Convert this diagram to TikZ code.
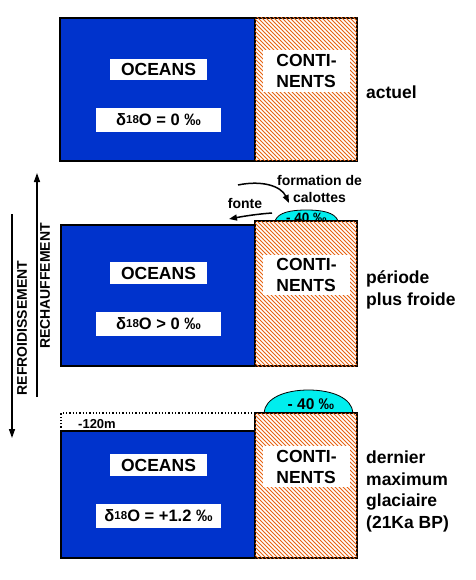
\documentclass[tikz,border=0pt]{standalone}
\usepackage{fontspec}
\setmainfont{Liberation Sans}[BoldFont={Liberation Sans Bold}]
\usetikzlibrary{patterns.meta,arrows.meta}
\definecolor{ocean}{RGB}{0,51,204}
\definecolor{hatch}{RGB}{232,100,20}
\definecolor{ice}{RGB}{0,238,238}
\newcommand{\fs}[2]{\fontsize{#1}{#2}\selectfont}
\newcommand{\dO}[1]{δ\raisebox{2.5pt}{\fs{11.5}{11.5}18}O #1 ‰}
\begin{document}
\begin{tikzpicture}[x=1pt,y=-1pt,
  oceanbox/.style={fill=ocean,draw=black,line width=1.3pt},
  contbox/.style={draw=black,line width=1.3pt,fill=white,
     postaction={pattern={Lines[angle=-45,distance=2.8284pt,line width=0.75pt]},pattern color=hatch}},
  icecap/.style={fill=ice,draw=black,line width=0.8pt},
  wbox/.style={fill=white,inner sep=0pt,font=\bfseries\fs{17.5}{21}},
  lbl/.style={inner sep=0pt,font=\bfseries\fs{17.5}{21.5},align=left},
  small/.style={inner sep=0pt,font=\bfseries\fs{14}{17},align=center},
  arr/.style={line width=1.4pt,-{Triangle[length=9pt,width=6pt]}},
  carr/.style={line width=1.5pt,-{Triangle[length=8pt,width=6pt]}}]
\useasboundingbox (0,0) rectangle (475,580);
% ---------- panel 1 : actuel
\draw[oceanbox] (60,18) rectangle (255,161);
\draw[contbox] (255,18) rectangle (357,161);
\node[wbox,minimum width=97pt,minimum height=21pt] (oc1) at (158.5,69.5) {OCEANS};
\node[wbox,minimum width=125pt,minimum height=24pt,font=\bfseries\fs{16.5}{16.5}] (d1) at (158.5,120) {\dO{= 0}};
\node[wbox,minimum width=87pt,minimum height=42pt,align=left] (ct1) at (306.5,71) {CONTI-\\NENTS};
\node[lbl,anchor=base west] (l1) at (366,99) {actuel};
% ---------- panel 2 : periode plus froide
\draw[oceanbox] (61,225) rectangle (255,366);
\draw[icecap] (275,221) .. controls (278,212) and (292,210) .. (306.5,210)
   .. controls (321,210) and (335,212) .. (338,221) -- cycle;
\node[inner sep=0pt,font=\bfseries\fs{13.5}{14}] (c2) at (306.5,217.5) {- 40 ‰};
\draw[contbox] (255,221) rectangle (357,366);
\node[wbox,minimum width=97pt,minimum height=22pt] (oc2) at (158.5,273) {OCEANS};
\node[wbox,minimum width=125pt,minimum height=24pt,font=\bfseries\fs{16.5}{16.5}] (d2) at (158.5,324) {\dO{> 0}};
\node[wbox,minimum width=87pt,minimum height=40pt,align=left] (ct2) at (306.5,275) {CONTI-\\NENTS};
\node[lbl,anchor=base west] (l2) at (366,305) {période\\plus froide};
\node[small,anchor=base] (form) at (319.5,202) {formation de\\calottes};
\node[small,anchor=base] (fonte) at (245,208) {fonte};
\coordinate (fa) at (238,185);
\coordinate (fb) at (289,203);
\draw[carr] (fa) .. controls (262,180) and (281,186) .. (fb);
\coordinate (ga) at (272,213);
\coordinate (gb) at (229,219);
\draw[carr] (ga) .. controls (258,214) and (245,216) .. (gb);
% ---------- panel 3 : dernier maximum glaciaire
\draw[line width=1.3pt,dotted] (61,431) -- (61,413) -- (255,413);
\node[inner sep=0pt,anchor=base west,font=\bfseries\fs{13}{13}] (m120) at (78,428) {-120m};
\draw[oceanbox] (61,431) rectangle (255,558);
\draw[icecap] (264,413) .. controls (265,398) and (285,390) .. (308.5,390)
   .. controls (332,390) and (352,398) .. (353,413) -- cycle;
\node[inner sep=0pt,font=\bfseries\fs{15.5}{15.5}] (c3) at (311,404) {- 40 ‰};
\draw[contbox] (255,413) rectangle (357,558);
\node[wbox,minimum width=97pt,minimum height=22pt] (oc3) at (158.5,465) {OCEANS};
\node[wbox,minimum width=125pt,minimum height=24pt,font=\bfseries\fs{16.5}{16.5}] (d3) at (158.5,516) {\dO{= +1.2}};
\node[wbox,minimum width=87pt,minimum height=41pt,align=left] (ct3) at (306.5,466.5) {CONTI-\\NENTS};
\node[lbl,anchor=base west] (l3) at (366,528) {dernier\\maximum\\glaciaire\\(21Ka BP)};
% ---------- left arrows
\coordinate (ra) at (12,214);
\coordinate (rb) at (12,438);
\draw[arr] (ra) -- (rb);
\node[inner sep=0pt,rotate=90,font=\bfseries\fs{14}{14}] (refr) at (22,328) {REFROIDISSEMENT};
\coordinate (ha) at (37,397);
\coordinate (hb) at (37,173);
\draw[arr] (ha) -- (hb);
\node[inner sep=0pt,rotate=90,font=\bfseries\fs{14}{14}] (rech) at (45,286) {RECHAUFFEMENT};
\end{tikzpicture}
\end{document}
